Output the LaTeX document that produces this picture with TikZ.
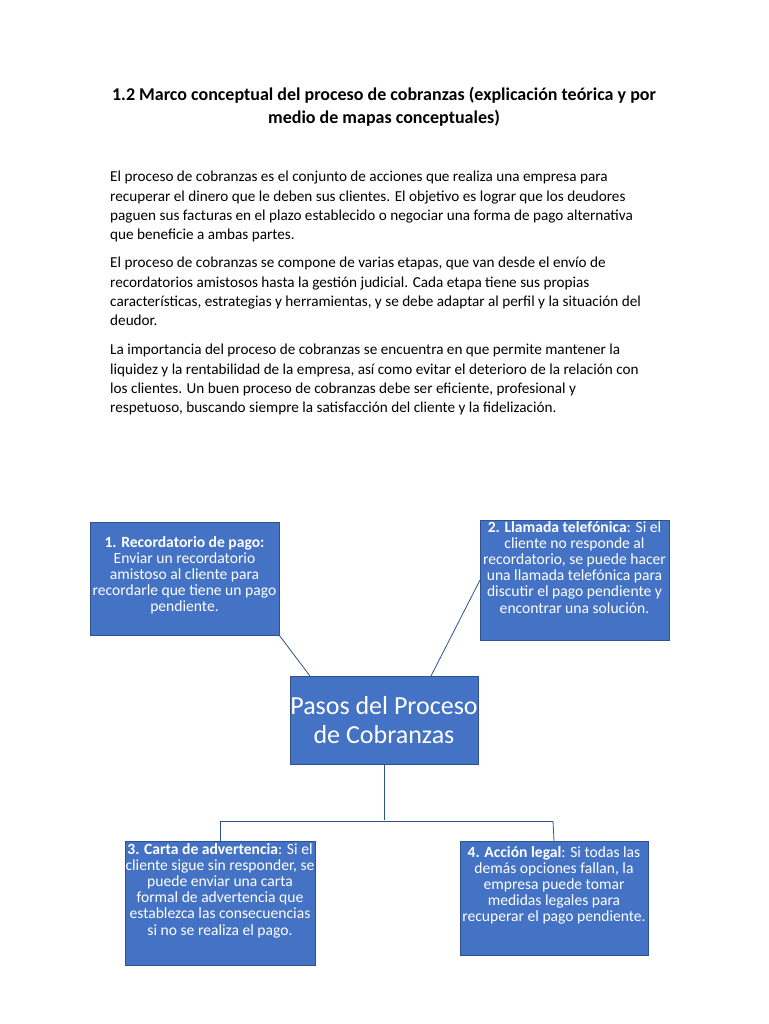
\documentclass[tikz,border=0pt]{standalone}
\usepackage{fontspec}
\setmainfont{Carlito}
\definecolor{boxblue}{HTML}{4472C4}
\definecolor{edgeblue}{HTML}{2F528F}
\begin{document}
\begin{tikzpicture}[x=1pt,y=-1pt,
  para/.style={anchor=north west,align=left,inner sep=0pt,font=\fontsize{15.2}{19.3}\selectfont},
  stepbox/.style={draw=edgeblue,fill=boxblue,inner sep=0pt},
  steptext/.style={text=white,align=center,inner sep=0pt,anchor=north,font=\fontsize{15.6}{16.2}\selectfont},
  conn/.style={draw=edgeblue,line width=0.8pt}]
\fill[white] (0,0) rectangle (768,1024);
\useasboundingbox (0,0) rectangle (768,1024);
\node (title) at (384,107) [align=center,font=\bfseries\fontsize{18}{23}\selectfont] {1.2 Marco conceptual del proceso de cobranzas (explicación teórica y por\\medio de mapas conceptuales)};
\node (p1) at (110,171) [para] {El proceso de cobranzas es el conjunto de acciones que realiza una empresa para\\recuperar el dinero que le deben sus clientes. El objetivo es lograr que los deudores\\paguen sus facturas en el plazo establecido o negociar una forma de pago alternativa\\que beneficie a ambas partes.};
\node (p2) at (110,257) [para] {El proceso de cobranzas se compone de varias etapas, que van desde el envío de\\recordatorios amistosos hasta la gestión judicial. Cada etapa tiene sus propias\\características, estrategias y herramientas, y se debe adaptar al perfil y la situación del\\deudor.};
\node (p3) at (110,344) [para] {La importancia del proceso de cobranzas se encuentra en que permite mantener la\\liquidez y la rentabilidad de la empresa, así como evitar el deterioro de la relación con\\los clientes. Un buen proceso de cobranzas debe ser eficiente, profesional y\\respetuoso, buscando siempre la satisfacción del cliente y la fidelización.};

\node (b1) [stepbox,minimum width=189pt,minimum height=113pt] at (184.5,578.5) {};
\node (t1) [steptext] at (184.5,536) {\textbf{1. Recordatorio de pago:}\\Enviar un recordatorio\\amistoso al cliente para\\recordarle que tiene un pago\\pendiente.};
\node (b2) [stepbox,minimum width=189pt,minimum height=120pt] at (574.5,580) {};
\node (t2) [steptext] at (574.5,521) {\textbf{2. Llamada telefónica}: Si el\\cliente no responde al\\recordatorio, se puede hacer\\una llamada telefónica para\\discutir el pago pendiente y\\encontrar una solución.};
\node (c) [stepbox,minimum width=188pt,minimum height=88pt,text=white,align=center,font=\fontsize{26}{29}\selectfont] at (384,720) {Pasos del Proceso\\de Cobranzas};
\node (b3) [stepbox,minimum width=190pt,minimum height=124pt] at (220,903) {};
\node (t3) [steptext] at (220,843) {\textbf{3. Carta de advertencia}: Si el\\cliente sigue sin responder, se\\puede enviar una carta\\formal de advertencia que\\establezca las consecuencias\\si no se realiza el pago.};
\node (b4) [stepbox,minimum width=188pt,minimum height=114pt] at (554,898) {};
\node (t4) [steptext] at (554,846) {\textbf{4. Acción legal}: Si todas las\\demás opciones fallan, la\\empresa puede tomar\\medidas legales para\\recuperar el pago pendiente.};

\coordinate (j0) at (384,820);
\coordinate (j3) at (220,821);
\coordinate (j4) at (553,821);
\draw[conn] (b1.south east) -- (310,676);
\draw[conn] (480,580) -- (431,676);
\draw[conn] (c.south) -- (j0);
\draw[conn] (j3) -- (j4);
\draw[conn] (j3) -- (b3.north);
\draw[conn] (j4) -- (b4.north);
\end{tikzpicture}
\end{document}
